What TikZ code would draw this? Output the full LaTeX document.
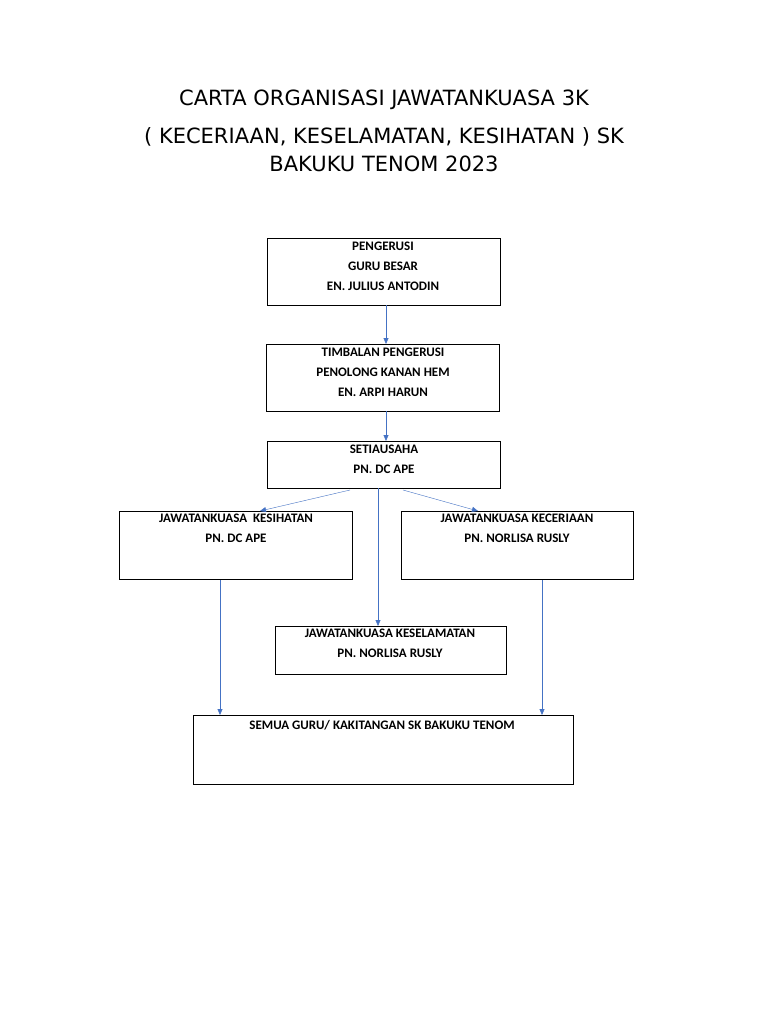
\documentclass[tikz,border=0pt]{standalone}
\usepackage{fontspec}
\setmainfont{DejaVu Sans}
\newfontfamily\boxfont{Carlito}
\usetikzlibrary{arrows.meta}
\definecolor{arr}{RGB}{68,114,196}
\begin{document}
\begin{tikzpicture}[x=1pt,y=-1pt,
  bx/.style={draw,thick,inner sep=0pt},
  bt/.style={font=\boxfont\bfseries\fontsize{13}{20}\selectfont,align=center,anchor=north,inner sep=0pt},
  con/.style={draw=arr,-{Triangle[length=6pt,width=5pt]}},
  tt/.style={font=\fontsize{21}{26}\selectfont,anchor=center,inner sep=0pt}]
\useasboundingbox[fill=white] (0,0) rectangle (768,1024);
\node[tt] (t1) at (384,100) {CARTA ORGANISASI JAWATANKUASA 3K};
\node[tt] (t2) at (384,137) {( KECERIAAN, KESELAMATAN, KESIHATAN ) SK};
\node[tt] (t3) at (384,164) {BAKUKU TENOM 2023};
\draw[bx] (267,238) rectangle (500,305); \coordinate (b1s) at (386,305);
\node[bt] (l1) at (383,242) {PENGERUSI\\GURU BESAR\\EN. JULIUS ANTODIN};
\draw[bx] (266,344) rectangle (499,411); \coordinate (b2n) at (386,344); \coordinate (b2s) at (386,411);
\node[bt] (l2) at (383,348) {TIMBALAN PENGERUSI\\PENOLONG KANAN HEM\\EN. ARPI HARUN};
\draw[bx] (267,441) rectangle (500,488); \coordinate (b3n) at (386,441);
\node[bt] (l3) at (384,445) {SETIAUSAHA\\PN. DC APE};
\draw[bx] (119,511) rectangle (352,579);
\node[bt] (l4) at (236,514) {JAWATANKUASA\ \ KESIHATAN\\PN. DC APE};
\draw[bx] (401,511) rectangle (633,579);
\node[bt] (l5) at (517,514) {JAWATANKUASA KECERIAAN\\PN. NORLISA RUSLY};
\draw[bx] (275,626) rectangle (506,674);
\node[bt] (l6) at (390,629) {JAWATANKUASA KESELAMATAN\\PN. NORLISA RUSLY};
\draw[bx] (193,715) rectangle (573,784);
\node[bt] (l7) at (382,720) {SEMUA GURU/ KAKITANGAN SK BAKUKU TENOM};
\coordinate (a1) at (350,490); \coordinate (a2) at (260,511);
\coordinate (c1) at (378,488); \coordinate (c2) at (378,626);
\coordinate (d1) at (403,490); \coordinate (d2) at (478,511);
\coordinate (e1) at (220,580); \coordinate (e2) at (220,715);
\coordinate (f1) at (542,580); \coordinate (f2) at (542,715);
\draw[con] (b1s) -- (b2n);
\draw[con] (b2s) -- (b3n);
\draw[con] (a1) -- (a2);
\draw[con] (c1) -- (c2);
\draw[con] (d1) -- (d2);
\draw[con] (e1) -- (e2);
\draw[con] (f1) -- (f2);
\end{tikzpicture}
\end{document}
